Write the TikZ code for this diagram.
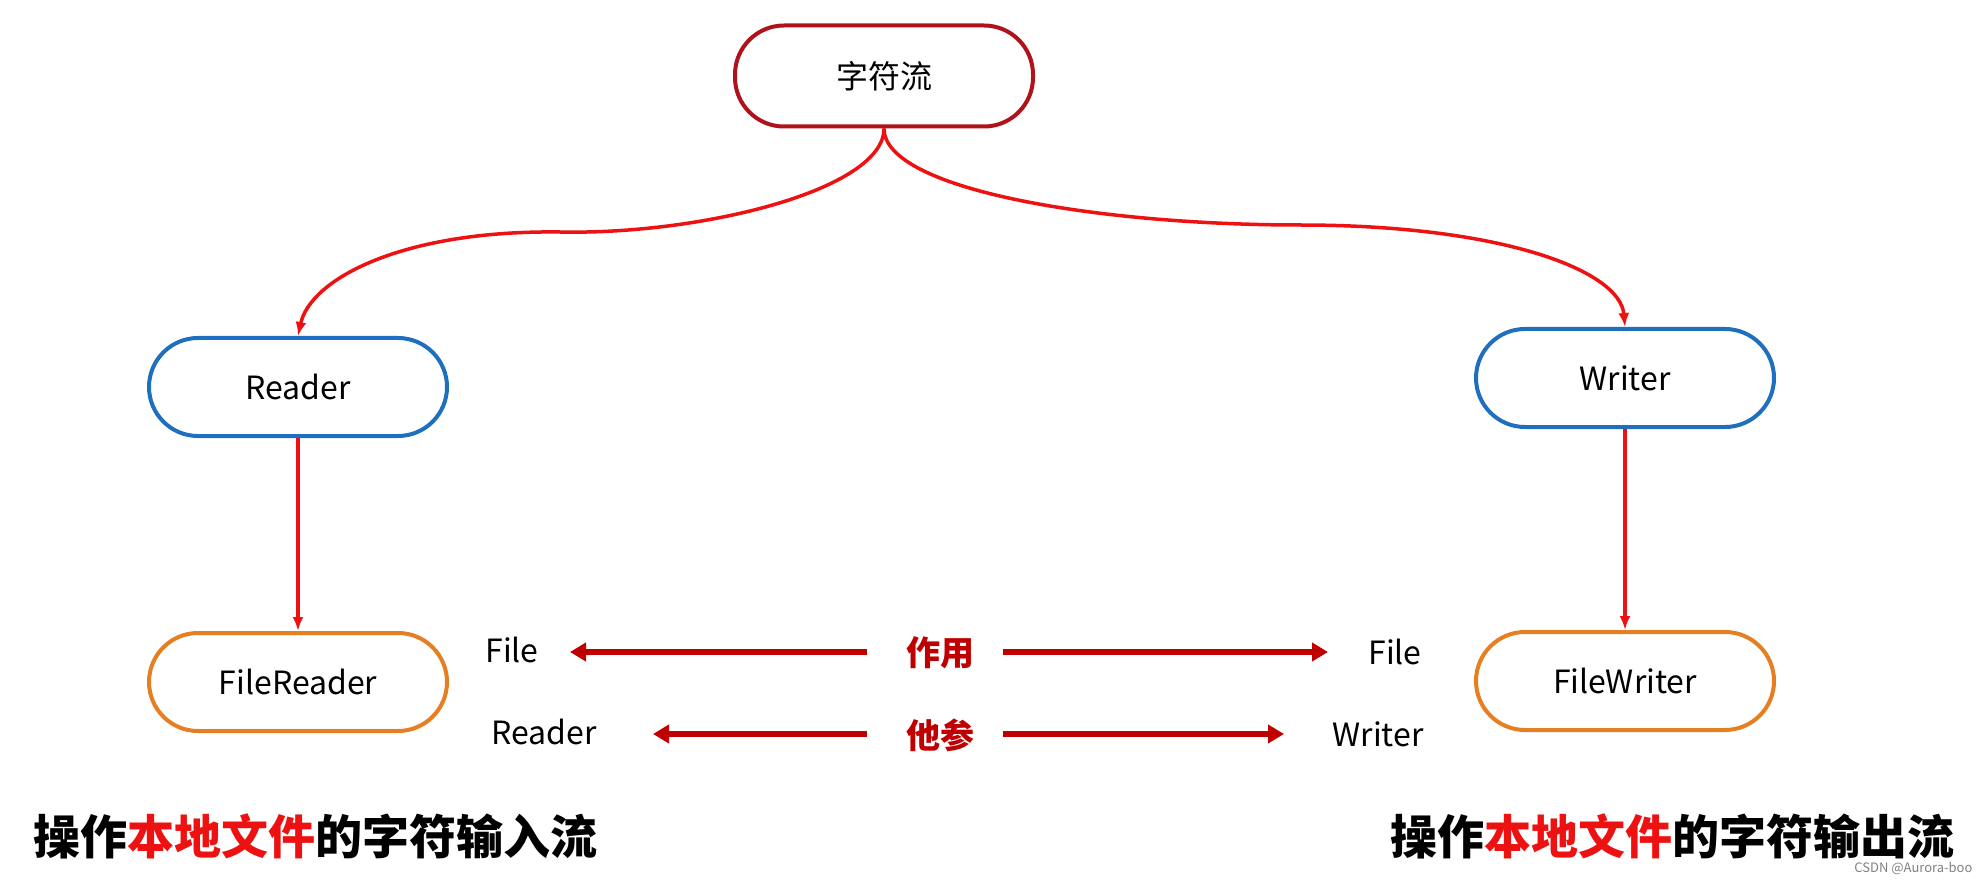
\documentclass[tikz,border=0pt]{standalone}
\usepackage{fontspec}
\setmainfont{Noto Sans CJK SC}
\usetikzlibrary{arrows.meta}
\definecolor{dred}{HTML}{B0121B}
\definecolor{lred}{HTML}{EE1111}
\definecolor{mred}{HTML}{C00000}
\definecolor{bblue}{HTML}{1F6FBF}
\definecolor{oorange}{HTML}{E67E22}
\begin{document}
\begin{tikzpicture}[x=1pt,y=-1pt,
  pill/.style={draw,line width=4pt,rounded corners=49pt,minimum width=298pt,minimum height=98pt,font=\fontsize{32}{34}\selectfont,fill=white},
  conn/.style={draw=lred,line width=3.5pt,-{Latex[length=14pt,width=11pt]}},
  lab/.style={font=\fontsize{32}{34}\selectfont},
  fat/.style={draw=mred,line width=6pt,-{Triangle[length=16pt,width=18pt]}},
  big/.style={font=\fontsize{47}{49}\selectfont\bfseries}]
\useasboundingbox (0,0) rectangle (1978,882);
\node[pill,draw=dred,minimum height=101pt] (top) at (884,76) {字符流};
\node[pill,draw=bblue] (rd) at (298,387) {Reader};
\node[pill,draw=bblue] (wr) at (1625,378) {Writer};
\node[pill,draw=oorange] (frd) at (298,682) {FileReader};
\node[pill,draw=oorange] (fwr) at (1625,681) {FileWriter};
\draw[conn] (top.south) .. controls (884,190) and (700,235) .. (560,232) .. controls (400,230) and (310,280) .. (rd.north);
\draw[conn] (top.south) .. controls (884,190) and (1100,225) .. (1300,225) .. controls (1500,225) and (1620,270) .. (wr.north);
\draw[conn] (rd) -- (frd);
\draw[conn] (wr) -- (fwr);
\node[lab] (f1) at (512,650) {File};
\node[lab,text=mred,font=\fontsize{34}{36}\selectfont\bfseries] (zy) at (940,653) {作用};
\node[lab] (f2) at (1395,652) {File};
\node[lab] (r1) at (544,732) {Reader};
\node[lab,text=mred,font=\fontsize{34}{36}\selectfont\bfseries] (tc) at (940,735) {他参};
\node[lab] (w1) at (1378,734) {Writer};
\draw[fat] (867,652) -- (570,652);
\draw[fat] (1003,652) -- (1328,652);
\draw[fat] (867,734) -- (653,734);
\draw[fat] (1003,734) -- (1284,734);
\node[big,anchor=west] (bl) at (30,836) {操作\textcolor{lred}{本地文件}的字符输入流};
\node[big,anchor=east] (br) at (1958,836) {操作\textcolor{lred}{本地文件}的字符输出流};
\node[font=\fontsize{13}{14}\selectfont,text=gray,anchor=east] (wm) at (1976,868) {CSDN @Aurora-boo};
\end{tikzpicture}
\end{document}
